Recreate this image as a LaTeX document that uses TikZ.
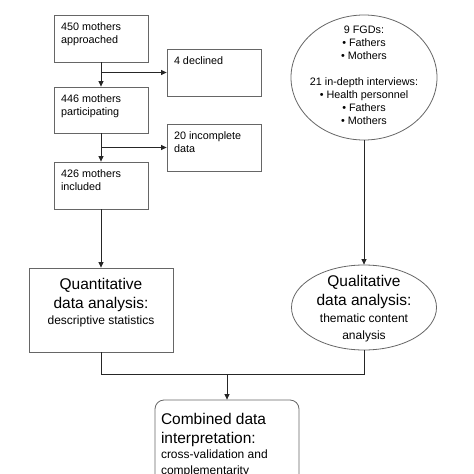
\documentclass[tikz,border=0pt]{standalone}
\usepackage{fontspec}
\setmainfont{Liberation Sans}
\usetikzlibrary{arrows.meta,shapes.geometric,calc}
\newcommand{\zerobox}[1]{\setbox0=\hbox to 0pt{\hss#1\hss}\ht0=0pt\dp0=0pt\box0}
\begin{document}
\begin{tikzpicture}[x=1pt,y=-1pt,
  box/.style={draw=black!60,line width=0.8pt,rectangle,inner xsep=7pt,inner ysep=5pt,anchor=center},
  oval/.style={draw=black!60,line width=0.8pt,ellipse,inner sep=0pt},
  conn/.style={draw=black!85,line width=0.8pt},
  arr/.style={conn,-{Triangle[length=5.5pt,width=5pt]}},
]
\useasboundingbox (0,0) rectangle (474,474);
\fill[white] (0,0) rectangle (474,474);
% left column
\node[box] (b1) at (101,38.5) {\parbox[t][37pt][t]{80pt}{\fontsize{10.8}{13}\selectfont\vspace{3pt}450 mothers\\approached}};
\node[box] (b2) at (101,110) {\parbox[t][36pt][t]{80pt}{\fontsize{10.8}{13}\selectfont\vspace{3pt}446 mothers\\participating}};
\node[box] (b3) at (101,185.5) {\parbox[t][37pt][t]{80pt}{\fontsize{10.8}{13}\selectfont\vspace{3pt}426 mothers\\included}};
\node[box] (dec) at (214,72.5) {\parbox[t][37pt][t]{80pt}{\fontsize{10.8}{13}\selectfont\vspace{3pt}4 declined}};
\node[box] (inc) at (214,147.5) {\parbox[t][37pt][t]{80pt}{\fontsize{10.8}{13}\selectfont\vspace{3pt}20 incomplete\\data}};
\node[box,inner xsep=6pt] (quant) at (101,310) {\parbox[t][74pt][t]{132pt}{\centering\vspace{5pt}\fontsize{15.5}{19}\selectfont Quantitative\\data analysis:\par\fontsize{12}{16}\selectfont descriptive statistics\par}};
% right column
\node[oval,minimum width=146pt,minimum height=125pt] (src) at (364,77.5) {\zerobox{\parbox{140pt}{\centering\fontsize{10.8}{13}\selectfont 9 FGDs:\\• Fathers\\• Mothers\\[13pt]21 in-depth interviews:\\• Health personnel\\• Fathers\\• Mothers\par}}};
\node[oval,minimum width=145pt,minimum height=85pt] (qual) at (364,307.5) {\zerobox{\parbox{130pt}{\centering\vspace*{8pt}\fontsize{15.5}{19}\selectfont Qualitative\\data analysis:\par\fontsize{12}{17}\selectfont thematic content\\analysis\par}}};
% combined
\node[box,rounded corners=9pt,inner xsep=6pt] (comb) at (227,442) {\parbox[t][74pt][t]{132pt}{\raggedright\vspace{8pt}\fontsize{15.5}{19}\selectfont Combined data\\interpretation:\par\fontsize{12}{15.5}\selectfont cross-validation and\\complementarity\par}};
% connectors
\draw[arr] (b1) -- (b2);
\draw[arr] (b2) -- (b3);
\draw[arr] (b1.south |- dec.west) -- (dec.west);
\draw[arr] (b2.south |- inc.west) -- (inc.west);
\draw[arr] (b3) -- (quant);
\draw[arr] (src) -- (qual);
\coordinate (j) at (227,374);
\draw[conn] (quant.south) |- (j);
\draw[conn] (qual.south) |- (j);
\draw[arr] (j) -- (comb.north);
\end{tikzpicture}
\end{document}
